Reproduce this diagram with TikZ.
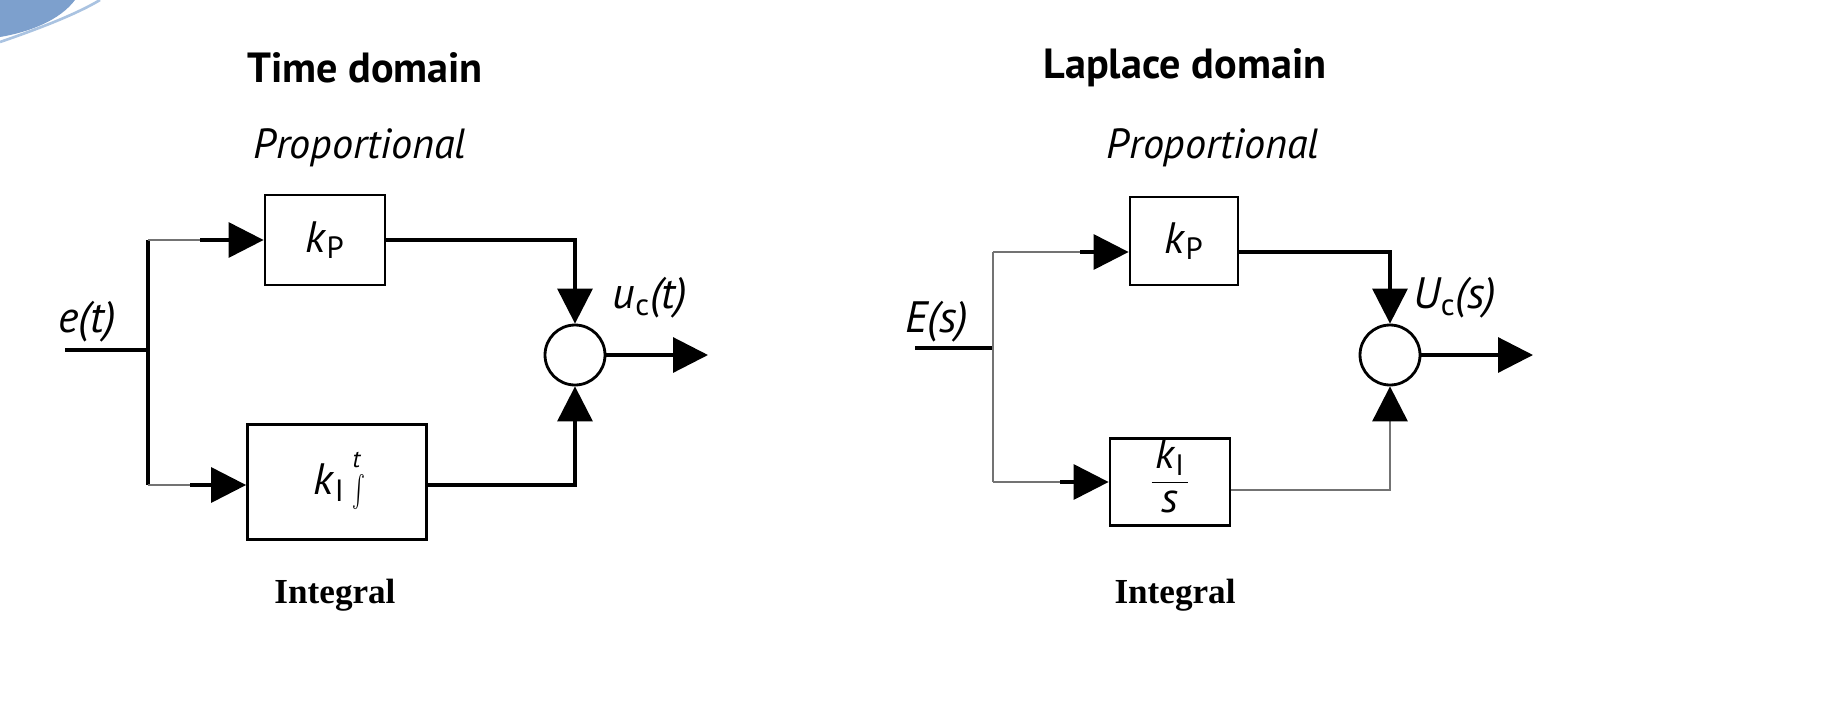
\documentclass[tikz,border=0pt]{standalone}
\usepackage{fontspec}
\setmainfont{PT Sans}
\newfontfamily\serifb{Liberation Serif}
\usetikzlibrary{arrows.meta}
\definecolor{cornerblue}{RGB}{125,160,205}
\definecolor{cornerlight}{RGB}{170,195,225}
\begin{document}
\begin{tikzpicture}[x=0.02cm,y=-0.02cm,
  blk/.style={draw,line width=1.6pt,inner sep=0pt},
  sum/.style={draw,circle,line width=1.6pt,minimum size=1.2cm,inner sep=0pt},
  ln/.style={line width=1.8pt},
  gl/.style={line width=1.4pt,draw=black!55},
  arr/.style={-{Triangle[length=0.7cm,width=0.7cm]}},
  ttl/.style={font=\fontsize{24}{28}\selectfont\bfseries},
  sub/.style={font=\fontsize{24}{28}\selectfont\itshape},
  lab/.style={font=\fontsize{25}{28}\selectfont\itshape},
  intl/.style={font=\fontsize{20}{24}\selectfont\serifb\bfseries}]
\useasboundingbox (0,0) rectangle (1821,707);
% corner decoration
\fill[cornerblue] (0,0) -- (75,0) .. controls (60,20) and (30,32) .. (0,37) -- cycle;
\draw[cornerlight,line width=1.5pt] (0,42) .. controls (35,30) and (75,15) .. (100,0);
% ---------- left ----------
\node[ttl] (t1) at (365,68) {Time domain};
\node[sub] (p1) at (360,148) {Proportional};
\node[blk,minimum width=2.4cm,minimum height=1.8cm] (kp1) at (325,240) {\fontsize{25}{28}\selectfont\textit{k}\textsubscript{P}};
\node[blk,minimum width=3.58cm,minimum height=2.3cm] (ki1) at (337,482) {\fontsize{25}{28}\selectfont\textit{k}\textsubscript{I}\,\raisebox{-0.35cm}{\scalebox{1.1}[1.8]{$\int$}}\raisebox{0.55cm}{\kern-0.25cm\fontsize{14}{16}\selectfont\itshape t}};
\node[sum] (s1) at (575,355) {};
\coordinate (in1) at (65,350);
\coordinate (b1) at (148,350);
\coordinate (bt1) at (148,240);
\coordinate (bb1) at (148,485);
\coordinate (o1) at (708,355);
\draw[ln] (in1) -- (b1);
\draw[ln] (bt1) -- (bb1);
\draw[gl] (bt1) -- (200,240); \draw[ln,arr] (200,240) -- (kp1.west);
\draw[gl] (bb1) -- (190,485); \draw[ln,arr] (190,485) -- (ki1.west |- 0,485);
\draw[ln,arr] (kp1.east) -- (575,240) -- (s1.north);
\draw[ln,arr] (ki1.east |- 0,485) -- (575,485) -- (s1.south);
\draw[ln,arr] (s1.east) -- (o1);
\node[lab] (e1) at (87,322) {e(t)};
\node[lab] (u1) at (650,298) {u\textsubscript{\upshape c}(t)};
\node[intl] (i1) at (335,595) {Integral};
% ---------- right ----------
\node[ttl] (t2) at (1185,68) {Laplace domain};
\node[sub] (p2) at (1213,148) {Proportional};
\node[blk,minimum width=2.16cm,minimum height=1.76cm] (kp2) at (1184,241) {\fontsize{25}{28}\selectfont\textit{k}\textsubscript{P}};
\node[blk,minimum width=2.4cm,minimum height=1.7cm] (ki2) at (1170,482) {\fontsize{24}{26}\selectfont\setlength{\tabcolsep}{2pt}\renewcommand{\arraystretch}{0.95}\begin{tabular}{c}\textit{k}\textsubscript{I}\\\hline\textit{s}\end{tabular}};
\node[sum] (s2) at (1390,355) {};
\coordinate (in2) at (915,348);
\coordinate (b2) at (993,348);
\coordinate (bt2) at (993,252);
\coordinate (bb2) at (993,482);
\coordinate (o2) at (1533,355);
\draw[ln] (in2) -- (b2);
\draw[gl] (bt2) -- (bb2);
\draw[gl] (bt2) -- (1080,252); \draw[ln,arr] (1080,252) -- (kp2.west |- 0,252);
\draw[gl] (bb2) -- (1060,482); \draw[ln,arr] (1060,482) -- (ki2.west);
\draw[ln] (kp2.east |- 0,252) -- (1300,252); \draw[ln,arr] (1300,252) -- (1390,252) -- (s2.north);
\draw[gl] (ki2.east |- 0,490) -- (1390,490) -- (1390,420); \draw[ln,arr] (1390,420) -- (s2.south);
\draw[ln,arr] (s2.east) -- (o2);
\node[lab] (e2) at (937,322) {E(s)};
\node[lab] (u2) at (1455,298) {U\textsubscript{\upshape c}(s)};
\node[intl] (i2) at (1175,595) {Integral};
\end{tikzpicture}
\end{document}
